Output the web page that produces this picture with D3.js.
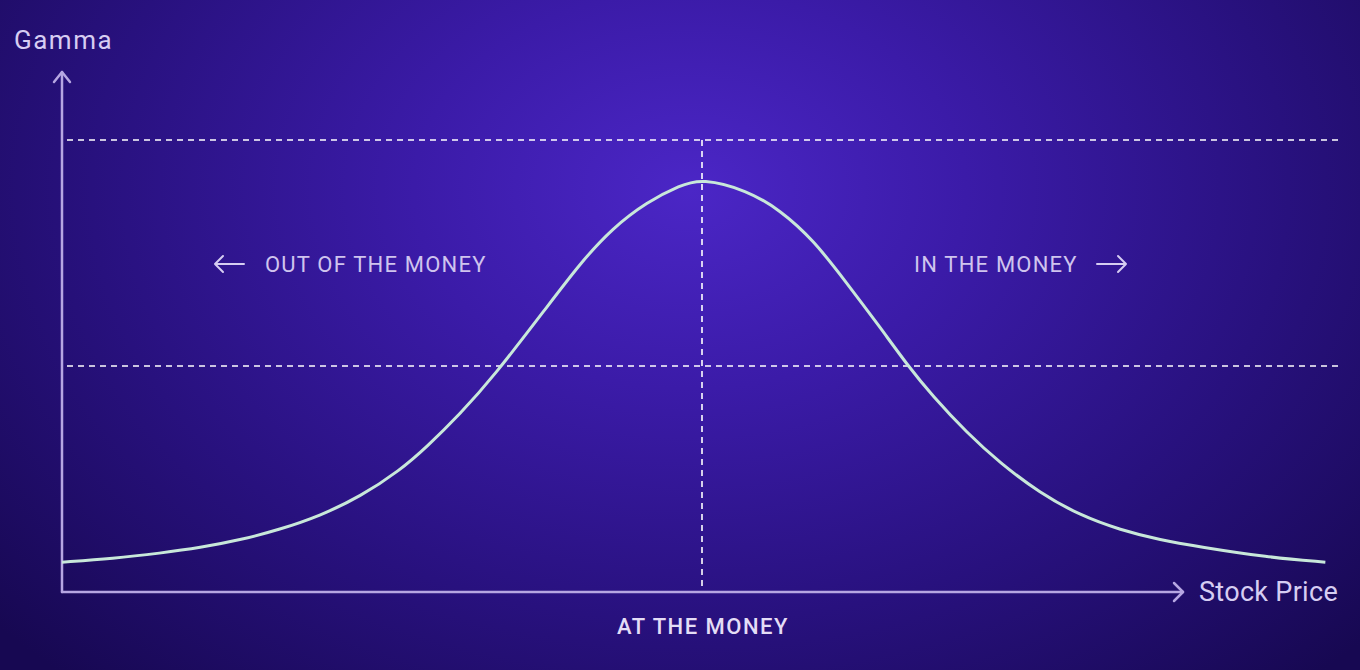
<!DOCTYPE html>
<html>
<head>
<meta charset="utf-8">
<script src="https://cdn.jsdelivr.net/npm/d3@7"></script>
<style>
  html, body { margin: 0; padding: 0; background: #1a0a58; overflow: hidden; }
  svg { display: block; font-family: Roboto, "Noto Sans", sans-serif; }
</style>
</head>
<body>
<svg id="chart" width="1360" height="670"></svg>
<script>
// stock price (ATM = 50) and gamma
const prices = [0, 4, 7.7, 10.8, 13.9, 17, 20.2, 23.3, 26.4, 28.5, 31.1, 33.7, 37.9, 40.5, 43, 45.7, 48.3, 50,
                53.5, 56.1, 58.7, 61.3, 63.9, 66.1, 68, 70.7, 73.3, 76.4, 79.5, 82.7, 85.8, 88.9, 94.1, 98.7]
const gamma = [0.066, 0.074, 0.086, 0.098, 0.115, 0.138, 0.169, 0.211, 0.269, 0.321, 0.394, 0.476, 0.631, 0.728, 0.805, 0.863, 0.9, 0.915,
               0.889, 0.845, 0.779, 0.684, 0.586, 0.5, 0.434, 0.352, 0.285, 0.219, 0.17, 0.137, 0.115, 0.1, 0.077, 0.066]
const guideLevels = [1, 0.5]
const atmPrice = 50
const labels = { y: 'Gamma', x: 'Stock Price', atm: 'AT THE MONEY', otm: 'OUT OF THE MONEY', itm: 'IN THE MONEY' }

var svg = d3.select('#chart'),
    width = +svg.attr('width'),
    height = +svg.attr('height');

var x = d3.scaleLinear().domain([0, 100]).range([62, 1342]),
    y = d3.scaleLinear().domain([0, 1]).range([592, 140]);

// background glow
var defs = svg.append('defs')
var grad = defs.append('radialGradient')
    .attr('id', 'bg')
    .attr('gradientUnits', 'userSpaceOnUse')
    .attr('cx', 690).attr('cy', 190).attr('r', 920)
    .attr('gradientTransform', 'translate(690,190) scale(1,0.72) translate(-690,-190)')
grad.selectAll('stop')
  .data([[0, '#4b26c6'], [0.3, '#3b1ba8'], [0.65, '#28117e'], [1, '#170852']])
  .enter().append('stop')
    .attr('offset', d => d[0])
    .attr('stop-color', d => d[1])

svg.append('rect').attr('width', width).attr('height', height).attr('fill', 'url(#bg)')

// guides
var guides = svg.append('g')
    .attr('stroke', '#ffffff')
    .attr('stroke-width', 1.6)
    .attr('stroke-dasharray', '6,5')
    .attr('fill', 'none')

guides.selectAll('line.h')
  .data(guideLevels)
  .enter().append('line')
    .attr('class', 'h')
    .attr('x1', x(0) + 5).attr('x2', 1340)
    .attr('y1', d => y(d)).attr('y2', d => y(d))

guides.append('line')
    .attr('x1', x(atmPrice)).attr('x2', x(atmPrice))
    .attr('y1', y(1)).attr('y2', y(0))

// axes
var axisColor = '#b6a6e2'
var axes = svg.append('g')
    .attr('stroke', axisColor)
    .attr('stroke-width', 2.5)
    .attr('fill', 'none')
    .attr('stroke-linecap', 'round')
    .attr('stroke-linejoin', 'round')

var yTop = 72, xEnd = 1183
axes.append('path').attr('d', `M${x(0)},${y(0)}V${yTop}`)
axes.append('path').attr('d', `M${x(0) - 8},${yTop + 10}L${x(0)},${yTop}L${x(0) + 8},${yTop + 10}`)
axes.append('path').attr('d', `M${x(0)},${y(0)}H${xEnd}`)
axes.append('path').attr('d', `M${xEnd - 9},${y(0) - 9}L${xEnd},${y(0)}L${xEnd - 9},${y(0) + 9}`)

// gamma curve, smoothed through the read points
var line = d3.line()
    .x((d, i) => x(prices[i]))
    .y(d => y(d))
    .curve(d3.curveBasis)

svg.append('path')
    .datum(gamma)
    .attr('fill', 'none')
    .attr('stroke', '#c8e8da')
    .attr('stroke-width', 3)
    .attr('d', line)

// text
svg.append('text')
    .attr('x', 14).attr('y', 49)
    .attr('fill', '#d6cdf2')
    .attr('font-size', 26)
    .attr('letter-spacing', 1.5)
    .text(labels.y)

svg.append('text')
    .attr('x', 1199).attr('y', 601)
    .attr('fill', '#d6cdf2')
    .attr('font-size', 27)
    .attr('letter-spacing', 0.3)
    .text(labels.x)

svg.append('text')
    .attr('x', x(atmPrice) + 1).attr('y', 634)
    .attr('text-anchor', 'middle')
    .attr('fill', '#e4ddf6')
    .attr('font-size', 22)
    .attr('font-weight', 500)
    .attr('letter-spacing', 1.5)
    .text(labels.atm)

var side = svg.append('g')
    .attr('fill', '#cfc4ee')
    .attr('font-size', 22)
    .attr('letter-spacing', 1.2)

side.append('text').attr('x', 265).attr('y', 272).text(labels.otm)
side.append('text').attr('x', 914).attr('y', 272).text(labels.itm)

var arrows = svg.append('g')
    .attr('stroke', '#d6cdf2')
    .attr('stroke-width', 2)
    .attr('fill', 'none')
    .attr('stroke-linecap', 'round')
    .attr('stroke-linejoin', 'round')

arrows.append('path').attr('d', 'M244,264H215M223,256L215,264L223,272')
arrows.append('path').attr('d', 'M1097,264H1126M1118,256L1126,264L1118,272')
</script>
</body>
</html>
